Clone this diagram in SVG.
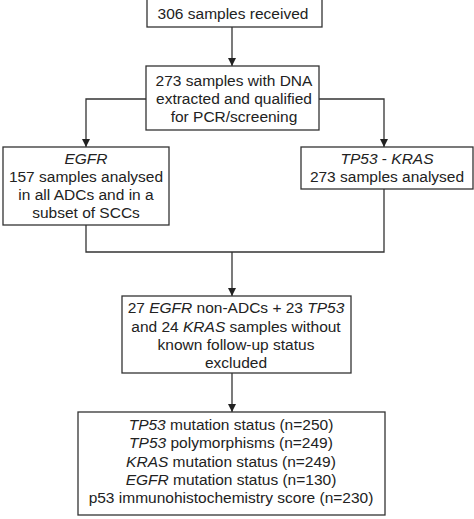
<svg xmlns="http://www.w3.org/2000/svg" width="474" height="519" viewBox="0 0 474 519">
<defs>
<style>
.box{fill:#fff;stroke:#333;stroke-width:1.3}
.ln{fill:none;stroke:#333;stroke-width:1.3}
text{font-family:"Liberation Sans",Arial,sans-serif;font-size:15.5px;fill:#222;text-anchor:middle}
.i{font-style:italic}
</style>
<marker id="ah" viewBox="0 0 10 10" refX="10" refY="5" markerWidth="8" markerHeight="8" markerUnits="userSpaceOnUse" orient="auto">
<path d="M0,0 L10,5 L0,10 Z" fill="#222"/>
</marker>
</defs>
<rect width="474" height="519" fill="#fff"/>
<g id="connectors">
<path class="ln" d="M232,27 V66" marker-end="url(#ah)"/>
<path class="ln" d="M146,99 H86 V147" marker-end="url(#ah)"/>
<path class="ln" d="M319,99 H384 V147" marker-end="url(#ah)"/>
<path class="ln" d="M86,225 V252 H384 V189"/>
<path class="ln" d="M232,252 V296" marker-end="url(#ah)"/>
<path class="ln" d="M232,373 V412" marker-end="url(#ah)"/>
</g>
<g id="n1">
<rect class="box" x="147" y="-2" width="175" height="29"/>
<text x="233" y="19">306 samples received</text>
</g>
<g id="n2">
<rect class="box" x="146" y="66" width="173" height="64"/>
<text x="234" y="86">273 samples with DNA</text>
<text x="234" y="104">extracted and qualified</text>
<text x="234" y="122">for PCR/screening</text>
</g>
<g id="n3">
<rect class="box" x="3" y="147" width="166" height="78"/>
<text x="86" y="164" class="i">EGFR</text>
<text x="86" y="182">157 samples analysed</text>
<text x="86" y="200">in all ADCs and in a</text>
<text x="86" y="218">subset of SCCs</text>
</g>
<g id="n4">
<rect class="box" x="301" y="147" width="172" height="42"/>
<text x="387" y="164"><tspan class="i">TP53</tspan> - <tspan class="i">KRAS</tspan></text>
<text x="387" y="182">273 samples analysed</text>
</g>
<g id="n5">
<rect class="box" x="122" y="296" width="229" height="77"/>
<text x="236" y="313">27 <tspan class="i">EGFR</tspan> non-ADCs + 23 <tspan class="i">TP53</tspan></text>
<text x="236" y="332">and 24 <tspan class="i">KRAS</tspan> samples without</text>
<text x="236" y="350">known follow-up status</text>
<text x="236" y="368">excluded</text>
</g>
<g id="n6">
<rect class="box" x="78" y="412" width="307" height="103"/>
<text x="231" y="430"><tspan class="i">TP53</tspan> mutation status (n=250)</text>
<text x="231" y="448"><tspan class="i">TP53</tspan> polymorphisms (n=249)</text>
<text x="231" y="467"><tspan class="i">KRAS</tspan> mutation status (n=249)</text>
<text x="231" y="485"><tspan class="i">EGFR</tspan> mutation status (n=130)</text>
<text x="231" y="503">p53 immunohistochemistry score (n=230)</text>
</g>
</svg>
